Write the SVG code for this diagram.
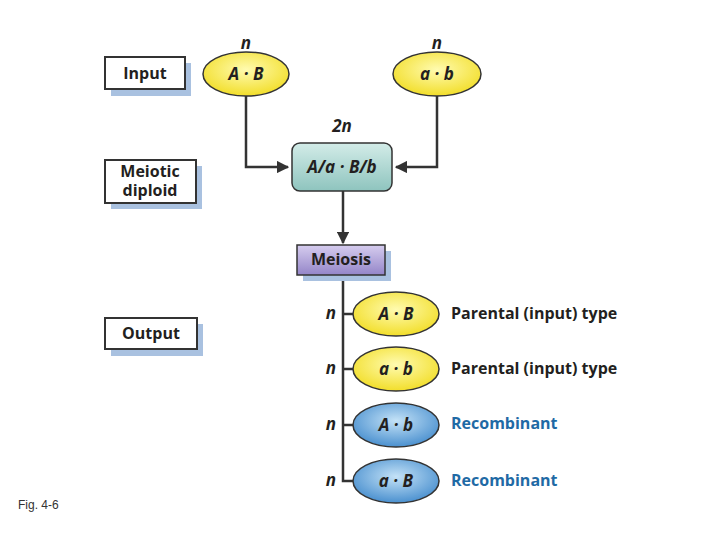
<svg xmlns="http://www.w3.org/2000/svg" width="720" height="540" viewBox="0 0 720 540">
<style>
.lab{fill:#fff;stroke:#333;stroke-width:2}
.sh{fill:#a9c1e0}
.t{font-family:"Open Sans","Liberation Sans",sans-serif;font-weight:bold;font-size:16px;fill:#231f20}
.g{font-family:"Open Sans","Liberation Sans",sans-serif;font-weight:bold;font-style:italic;font-size:17px;fill:#231f20;text-anchor:middle}
.yel{fill:url(#gy);stroke:#333;stroke-width:1.5}
.blu{fill:url(#gb);stroke:#333;stroke-width:1.5}
.c{fill:none;stroke:#333;stroke-width:2.5}
</style>
<defs>
<radialGradient id="gy" cx="0.5" cy="0.4" r="0.6"><stop offset="0" stop-color="#fffbb0"/><stop offset="1" stop-color="#f2de2a"/></radialGradient>
<radialGradient id="gb" cx="0.5" cy="0.4" r="0.6"><stop offset="0" stop-color="#c4e2f7"/><stop offset="1" stop-color="#4a90cf"/></radialGradient>
<linearGradient id="gt" x1="0" y1="0" x2="0" y2="1"><stop offset="0" stop-color="#d3ece8"/><stop offset="1" stop-color="#8ec4be"/></linearGradient>
<linearGradient id="gp" x1="0" y1="0" x2="0" y2="1"><stop offset="0" stop-color="#d6cdef"/><stop offset="1" stop-color="#9485c8"/></linearGradient>
<marker id="ar" viewBox="0 0 10 10" refX="9" refY="5" markerWidth="5" markerHeight="5" orient="auto"><path d="M0,0 L10,5 L0,10 z" fill="#333"/></marker>
</defs>
<rect width="720" height="540" fill="#fff"/>
<g id="input-label"><rect class="sh" x="111" y="63" width="80" height="33"/><rect class="lab" x="105" y="57" width="80" height="32"/><text class="t" x="145" y="79" text-anchor="middle">Input</text></g>
<g id="diploid-label"><rect class="sh" x="111" y="166" width="91" height="43"/><rect class="lab" x="105" y="160" width="91" height="43"/><text class="t" x="150" y="177" text-anchor="middle" font-size="15">Meiotic</text><text class="t" x="150" y="196" text-anchor="middle" font-size="15">diploid</text></g>
<g id="output-label"><rect class="sh" x="111" y="324" width="92" height="32"/><rect class="lab" x="105" y="318" width="92" height="31"/><text class="t" x="151" y="339" text-anchor="middle">Output</text></g>
<g id="connectors">
<path class="c" d="M246,96 V167 H288" marker-end="url(#ar)"/>
<path class="c" d="M437,96 V167 H396" marker-end="url(#ar)"/>
<path class="c" d="M343,191 V243" marker-end="url(#ar)"/>
<path class="c" d="M343,275 V481 H354 M343,314 H354 M343,369 H354 M343,425 H354"/>
</g>
<g id="p1"><text class="g" x="246" y="49">n</text><ellipse class="yel" cx="246" cy="74" rx="43" ry="22"/><text class="g" x="246" y="80">A · B</text></g>
<g id="p2"><text class="g" x="437" y="49">n</text><ellipse class="yel" cx="437" cy="74" rx="44" ry="22"/><text class="g" x="437" y="80">a · b</text></g>
<g id="diploid"><text class="g" x="342" y="132">2n</text><rect x="292" y="143" width="100" height="48" rx="8" fill="url(#gt)" stroke="#333" stroke-width="1.5"/><text class="g" x="342" y="173">A/a · B/b</text></g>
<g id="meiosis"><rect class="sh" x="303" y="251" width="88" height="30"/><rect x="297" y="245" width="88" height="30" fill="url(#gp)" stroke="#333" stroke-width="1.5"/><text class="t" x="341" y="265" text-anchor="middle">Meiosis</text></g>
<g id="o1"><text class="g" x="331" y="319">n</text><ellipse class="yel" cx="396" cy="314" rx="43" ry="22"/><text class="g" x="396" y="320">A · B</text><text class="t" x="451" y="319">Parental (input) type</text></g>
<g id="o2"><text class="g" x="331" y="374">n</text><ellipse class="yel" cx="396" cy="369" rx="43" ry="22"/><text class="g" x="396" y="375">a · b</text><text class="t" x="451" y="374">Parental (input) type</text></g>
<g id="o3"><text class="g" x="331" y="430">n</text><ellipse class="blu" cx="396" cy="425" rx="43" ry="22"/><text class="g" x="396" y="431">A · b</text><text class="t" x="451" y="429" style="fill:#1f6aa5">Recombinant</text></g>
<g id="o4"><text class="g" x="331" y="486">n</text><ellipse class="blu" cx="396" cy="481" rx="43" ry="22"/><text class="g" x="396" y="487">a · B</text><text class="t" x="451" y="486" style="fill:#1f6aa5">Recombinant</text></g>
<text x="18" y="509" font-family="Liberation Sans,Arial,sans-serif" font-size="12" fill="#333">Fig. 4-6</text>
</svg>
